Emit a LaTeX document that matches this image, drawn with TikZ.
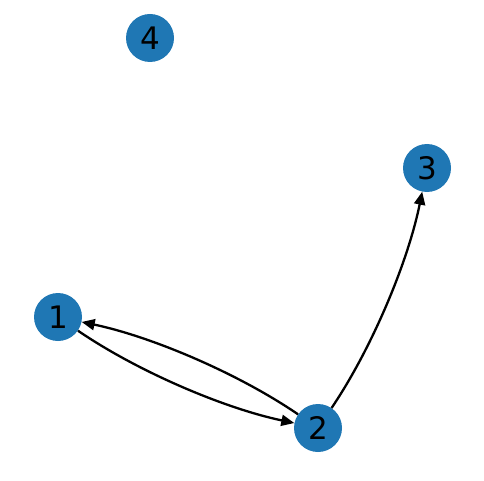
\documentclass[tikz,border=0pt]{standalone}
\usepackage{fontspec}
\setmainfont{DejaVu Sans}
\usetikzlibrary{arrows.meta}
\definecolor{nodeblue}{HTML}{1F77B4}
\begin{document}
\begin{tikzpicture}[x=1pt,y=-1pt,
  vert/.style={circle,fill=nodeblue,draw=none,minimum size=48pt,inner sep=0pt,font=\fontsize{31}{31}\selectfont,text=black},
  edge/.style={line width=2.3pt,black,-{Triangle[length=13pt,width=11pt]}}]
\useasboundingbox (0,0) rectangle (484,481);
\node[vert] (n4) at (150,38) {4};
\node[vert] (n3) at (427,168) {3};
\node[vert] (n1) at (58,317) {1};
\node[vert] (n2) at (318,428) {2};
\draw[edge] (n1) .. controls (137.3,371.3) and (224,408.3) .. (n2);
\draw[edge] (n2) .. controls (238.7,373.7) and (152,336.7) .. (n1);
\draw[edge] (n2) .. controls (371.7,348.7) and (408,262) .. (n3);
\end{tikzpicture}
\end{document}
